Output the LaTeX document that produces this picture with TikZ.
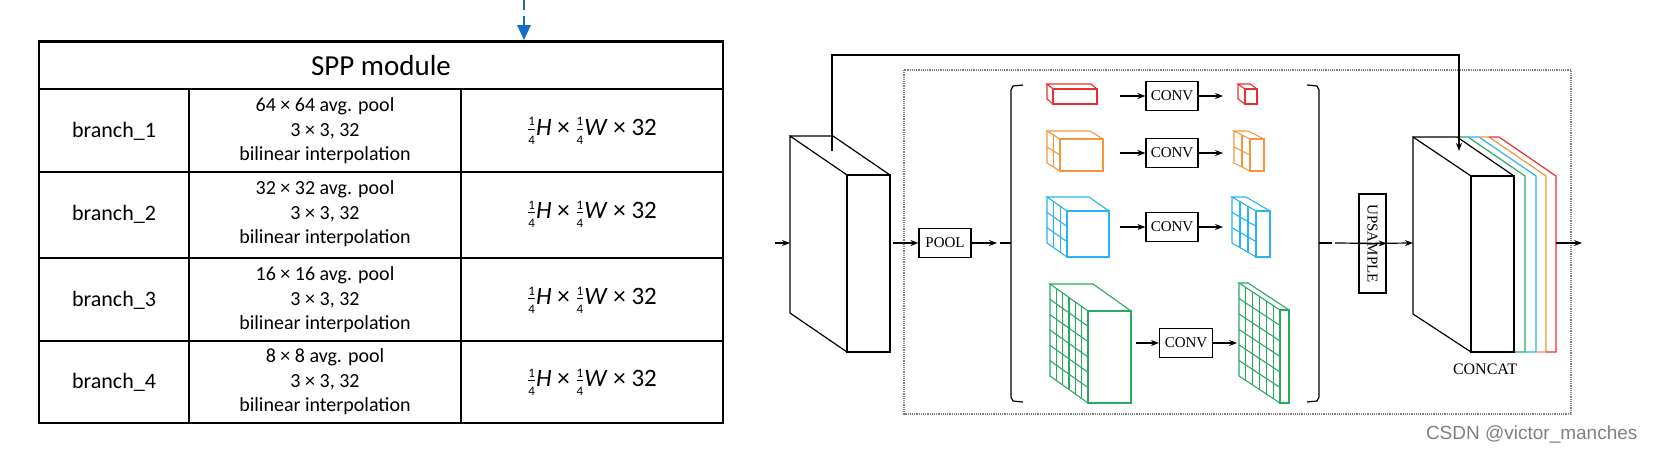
\documentclass[tikz,border=0pt]{standalone}
\usepackage{fontspec}
\setmainfont{Carlito}
\newfontfamily\dfont{Liberation Serif}
\newfontfamily\wfont{Liberation Sans}
\usetikzlibrary{arrows.meta}
\definecolor{cred}{RGB}{235,45,50}
\definecolor{corange}{RGB}{245,150,60}
\definecolor{cblue}{RGB}{40,180,240}
\definecolor{cgreen}{RGB}{40,170,95}
\definecolor{tblue}{RGB}{20,110,200}
\newcommand\qfr{$\frac{\mbox{\fontsize{13}{13}\selectfont 1}}{\mbox{\fontsize{13}{13}\selectfont 4}}$}
\newcommand\cuboid[9]{%
 \draw[#9] (#1,#2) rectangle ++(#3,#4);
 \draw[#9] (#1,#2) -- ++(#5,#6) -- ++(#3,0) -- ({#1+#3},#2);
 \draw[#9] ({#1+#5},{#2+#6}) -- ++(0,#4) -- (#1,{#2+#4});
 \ifnum#7>1
  \foreach \i in {1,...,\numexpr#7-1\relax}{
   \draw[#9] ({#1+#5*(1-\i/#7)},{#2+#6*(1-\i/#7)}) -- ++(0,#4);}
  \foreach \j in {1,...,\numexpr#8-1\relax}{
   \draw[#9] ({#1+#5},{#2+#6+#4*\j/#8}) -- (#1,{#2+#4*\j/#8});}
 \fi}
\tikzset{
 tl/.style={line width=2.2pt},
 cell/.style={font=\fontsize{20}{24.5}\selectfont,align=center},
 br/.style={font=\fontsize{22}{26}\selectfont},
 fr/.style={font=\fontsize{25}{26}\selectfont},
 dl/.style={line width=1.2pt},
 box/.style={draw,line width=1.2pt,font=\dfont\fontsize{15}{15}\selectfont,inner sep=3pt,minimum height=29pt},
 arr/.style={dl,-{Stealth[length=8pt,width=6pt]}},
 cub/.style={line width=1.1pt}
}
\begin{document}
\begin{tikzpicture}[x=1pt,y=-1pt]
\useasboundingbox (0,0) rectangle (1655,453);
% ---------- table ----------
\draw[tblue,line width=2pt,dash pattern=on 10pt off 6pt] (524,0) -- (524,26);
\fill[tblue] (517,25) -- (531,25) -- (524,40) -- cycle;
\draw[tl] (39,41) rectangle (723,423);
\draw[tl,line width=3pt] (39,41) -- (723,41);
\foreach \y in {89,172,258,341} \draw[tl] (39,\y) -- (723,\y);
\draw[tl] (189,89) -- (189,423);
\draw[tl] (461,89) -- (461,423);
\node[font=\fontsize{29}{30}\selectfont] (hdr) at (381,66) {SPP module};
\foreach \n/\y/\a in {1/131/64,2/214/32,3/300/16,4/382/8}{
 \node[br] (b\n) at (114,\y) {branch\_\n};
 \node[cell] (m\n) at (325,\y) {\a\ × \a\ avg. pool\\3 × 3, 32\\bilinear interpolation};
 \node[fr] (r\n) at (592,\y) {\qfr\textit{H} × \qfr\textit{W} × 32};
}
% ---------- diagram ----------
\draw[dl,densely dotted,gray] (904,70) rectangle (1571,414);
% input block
\draw[dl] (790,136) -- (833,136) -- (890,175);
\draw[dl] (790,136) -- (847,175) -- (847,352) -- (790,313) -- cycle;
\draw[dl] (847,175) rectangle (890,352);
\coordinate (inl) at (790,243);
\coordinate (inr) at (893,243);
\coordinate (src) at (775,243);
\coordinate (sk1) at (832,151);
\coordinate (sk2) at (1459,151);
\draw[arr] (src) -- (inl);
\node[box,minimum width=52pt] (pool) at (945,243) {POOL};
\draw[arr] (inr) -- (pool.west);
\coordinate (bl) at (1011,243);
\coordinate (bl0) at (997,243);
\draw[arr] (pool.east) -- (bl0);
\draw[dl] (1000,243) -- (bl);
% brackets
\draw[dl] (1023,85) -- (1013,86) -- (1011,90) -- (1011,397) -- (1013,401) -- (1023,402);
\draw[dl] (1307,85) -- (1317,86) -- (1319,90) -- (1319,397) -- (1317,401) -- (1307,402);
\coordinate (br) at (1319,243);
% cuboids
\cuboid{1053}{89}{44}{15}{-6}{-5}{1}{1}{cub,cred}
\cuboid{1245}{89}{12}{15}{-7}{-5}{1}{1}{cub,cred}
\cuboid{1060}{139}{43}{32}{-13}{-8}{2}{2}{cub,corange}
\cuboid{1250}{139}{14}{32}{-16}{-8}{2}{2}{cub,corange}
\cuboid{1067}{211}{42}{46}{-20}{-14}{3}{3}{cub,cblue}
\cuboid{1256}{211}{14}{46}{-24}{-14}{3}{3}{cub,cblue}
\cuboid{1088}{311}{43}{92}{-38}{-27}{6}{6}{cub,cgreen}
\cuboid{1280}{310}{9}{93}{-41}{-27}{6}{6}{cub,cgreen}
% conv
\foreach \k/\y/\s in {1/96/1120,2/153/1120,3/227/1120}{
 \node[box,minimum width=52pt] (c\k) at (1172,\y) {CONV};
 \coordinate (ci\k) at (\s,\y);
 \coordinate (co\k) at (1223,\y);
 \draw[arr] (ci\k) -- (c\k.west);
 \draw[arr] (c\k.east) -- (co\k);
}
\node[box,minimum width=53pt] (c4) at (1186,343) {CONV};
\coordinate (ci4) at (1136,343);
\coordinate (co4) at (1237,343);
\draw[arr] (ci4) -- (c4.west);
\draw[arr] (c4.east) -- (co4);
% upsample
\node[box,rotate=-90,minimum width=99pt,minimum height=27pt] (up) at (1372.5,243.5) {UPSAMPLE};
\draw[dl] (br) -- (1332,243);
\coordinate (br1) at (1335,243);
\draw[arr] (br1) -- (up.north);
\coordinate (ccl) at (1413,243);
\draw[arr] (up.south) -- (ccl);
% concat
\foreach \a/\b/\c in {0/11/cgreen,11/22/cblue,22/32/corange,32/42/cred}{
 \draw[dl,\c] (1457+\a,137) -- (1457+\b,137) -- (1514+\b,176) -- (1514+\b,352) -- (1514+\a,352);
}
\draw[dl] (1413,137) -- (1457,137) -- (1514,176);
\draw[dl] (1413,137) -- (1471,176) -- (1471,352) -- (1413,314) -- cycle;
\draw[dl] (1471,176) rectangle (1514,352);
\node[font=\dfont\fontsize{16}{16}\selectfont] (cc) at (1485,369) {CONCAT};
\coordinate (ccr) at (1556,243);
\coordinate (out) at (1582,243);
\draw[arr] (ccr) -- (out);
% skip
\draw[dl,-{Stealth[length=8pt,width=6pt]}] (sk1) -- (832,55) -- (1459,55) -- (sk2);
\node[text=gray,font=\wfont\fontsize{19}{19}\selectfont,anchor=east] (wm) at (1641,434) {CSDN @victor\_manches};
\end{tikzpicture}
\end{document}
